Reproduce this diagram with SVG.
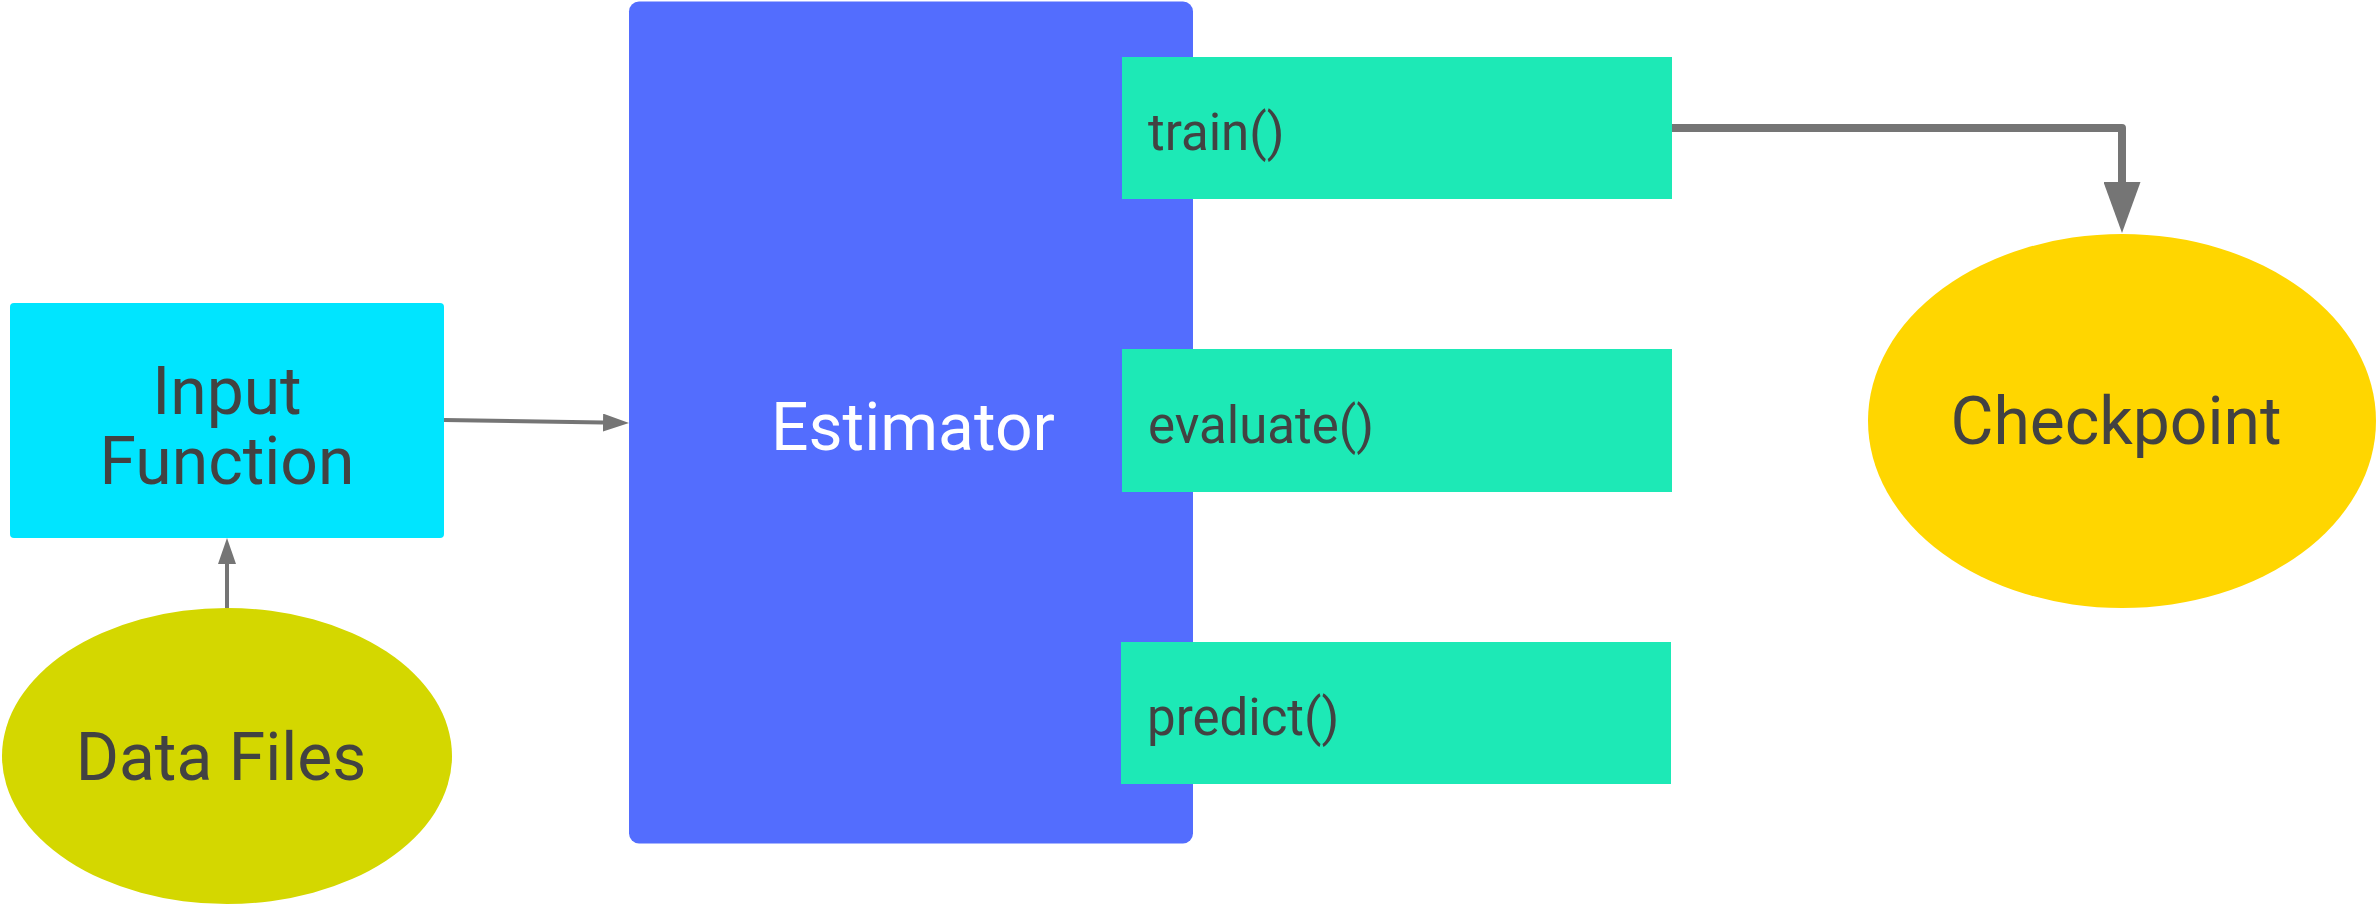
<svg xmlns="http://www.w3.org/2000/svg" width="2377" height="907" viewBox="0 0 2377 907">
  <style>
    .lbl { font-family: Roboto, "Noto Sans", "Liberation Sans", sans-serif; fill: #424242; }
    .big { font-size: 66px; }
    .mth { font-size: 51px; }
    .white { fill: #FFFFFF; }
    .conn { fill: none; stroke: #757575; stroke-linejoin: round; }
    .method { fill: #1DE9B6; }
  </style>
  <defs>
    <marker id="arrowSmall" markerUnits="userSpaceOnUse" markerWidth="26" markerHeight="18" refX="0" refY="9" orient="auto" viewBox="0 0 26 18">
      <path d="M0,0 L26,9 L0,18 Z" fill="#757575"/>
    </marker>
    <marker id="arrowBig" markerUnits="userSpaceOnUse" markerWidth="51" markerHeight="37" refX="0" refY="18.5" orient="auto" viewBox="0 0 51 37">
      <path d="M0,0 L51,18.5 L0,37 Z" fill="#757575"/>
    </marker>
  </defs>

  <g id="estimator">
    <rect x="629" y="1.5" width="564" height="842" rx="10" ry="10" fill="#536DFE"/>
    <text class="lbl big white" x="913" y="450" text-anchor="middle">Estimator</text>
  </g>

  <g id="train">
    <rect class="method" x="1122" y="57" width="550" height="142"/>
    <text class="lbl mth" x="1148" y="150">train()</text>
  </g>

  <g id="evaluate">
    <rect class="method" x="1122" y="349" width="550" height="143"/>
    <text class="lbl mth" x="1148" y="443">evaluate()</text>
  </g>

  <g id="predict">
    <rect class="method" x="1121" y="642" width="550" height="142"/>
    <text class="lbl mth" x="1147" y="735">predict()</text>
  </g>

  <g id="input-function">
    <rect x="10" y="303" width="434" height="235" rx="4" ry="4" fill="#00E5FF"/>
    <text class="lbl big" text-anchor="middle"><tspan x="227" y="414">Input</tspan><tspan x="227" y="484">Function</tspan></text>
  </g>

  <g id="data-files">
    <ellipse cx="227" cy="756" rx="225" ry="148" fill="#D4D700"/>
    <text class="lbl big" x="221" y="780" text-anchor="middle">Data Files</text>
  </g>

  <g id="checkpoint">
    <ellipse cx="2122" cy="421" rx="254" ry="187" fill="#FFD600"/>
    <text class="lbl big" x="2116" y="444" text-anchor="middle">Checkpoint</text>
  </g>

  <g id="connectors">
    <path class="conn" d="M227,608 L227,564" stroke-width="4" marker-end="url(#arrowSmall)"/>
    <path class="conn" d="M444,420 L603,422.6" stroke-width="4" marker-end="url(#arrowSmall)"/>
    <path class="conn" d="M1672,128 L2122,128 L2122,182" stroke-width="8" marker-end="url(#arrowBig)"/>
  </g>
</svg>
